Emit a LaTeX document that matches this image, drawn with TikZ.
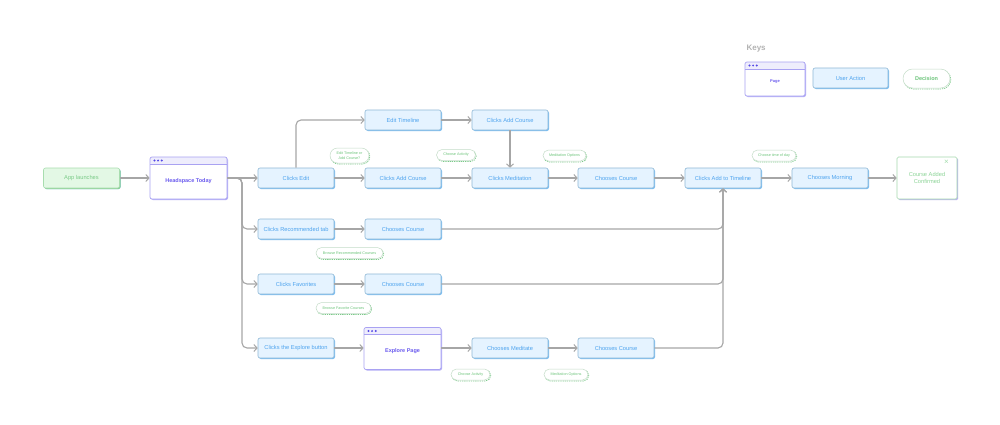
\documentclass[tikz,border=0pt]{standalone}
\usepackage{fontspec}
\setmainfont{Liberation Sans}
\usetikzlibrary{arrows.meta,shadows,shapes.misc}
\definecolor{actfill}{HTML}{E5F3FF}
\definecolor{actbd}{HTML}{8FB8D6}
\definecolor{actsh}{HTML}{79BDF2}
\definecolor{acttxt}{HTML}{4DA3EE}
\definecolor{pagebd}{HTML}{A9A2F2}
\definecolor{pagesh}{HTML}{B4AEF6}
\definecolor{pagebar}{HTML}{EEEDFC}
\definecolor{pagedot}{HTML}{5448E6}
\definecolor{pagetxt}{HTML}{6A5AEE}
\definecolor{decbd}{HTML}{C4DCC8}
\definecolor{decsh}{HTML}{7CC98A}
\definecolor{dectxt}{HTML}{6CC47A}
\definecolor{appfill}{HTML}{E3F8E5}
\definecolor{appbd}{HTML}{A8DDAF}
\definecolor{appsh}{HTML}{8ACF95}
\definecolor{apptxt}{HTML}{7BCB88}
\definecolor{confbd}{HTML}{A5D9AE}
\definecolor{confsh}{HTML}{B9B3EE}
\definecolor{conftxt}{HTML}{8CD497}
\definecolor{linec}{HTML}{A6A6A6}
\definecolor{keytxt}{HTML}{B3B3B3}
\tikzset{
  act/.style={draw=actbd, fill=actfill, text=acttxt, rounded corners=2pt,
    minimum width=76pt, minimum height=20pt, inner sep=1pt, line width=0.6pt,
    font=\fontsize{5.7}{6.5}\selectfont,
    drop shadow={shadow xshift=1pt, shadow yshift=-1pt, opacity=1, fill=actsh}},
  appbox/.style={act, draw=appbd, fill=appfill, text=apptxt,
    drop shadow={shadow xshift=1pt, shadow yshift=-1pt, opacity=1, fill=appsh}},
  page/.style={draw=pagebd, fill=white, rounded corners=2pt, line width=0.7pt,
    minimum width=77pt, minimum height=42pt, inner sep=0pt,
    drop shadow={shadow xshift=1pt, shadow yshift=-1pt, opacity=1, fill=pagesh},
    path picture={
      \fill[pagebar] (path picture bounding box.north west) rectangle ([yshift=-7pt]path picture bounding box.north east);
      \draw[pagebd, line width=0.4pt] ([yshift=-7pt]path picture bounding box.north west) -- ([yshift=-7pt]path picture bounding box.north east);
      \foreach \i in {0,1,2} \fill[pagedot] ([xshift=4.5pt+\i*3.6pt, yshift=-3.5pt]path picture bounding box.north west) circle (1.1pt);
    }},
  pagelbl/.style={text=pagetxt, font=\bfseries\fontsize{5.5}{6}\selectfont, yshift=-3pt},
  dec/.style={shape=rounded rectangle, draw=decbd, fill=white, text=dectxt,
    font=\fontsize{3.7}{4.4}\selectfont, minimum height=11pt, inner xsep=3pt, inner ysep=1pt,
    line width=0.5pt, align=center,
    drop shadow={shadow xshift=0.8pt, shadow yshift=-1pt, opacity=1, fill=white, draw=decsh, dash pattern=on 1.3pt off 0.9pt, line width=0.7pt}},
  arr/.style={draw=linec, line width=1.1pt, rounded corners=5pt,
    -{Straight Barb[length=3.2pt,width=7pt,line width=1pt]}},
}
\begin{document}
\begin{tikzpicture}[x=1pt,y=-1pt]
\useasboundingbox (0,0) rectangle (1000,424);
\fill[white] (0,0) rectangle (1000,424);

% Keys
\node[anchor=west, text=keytxt, font=\bfseries\fontsize{8}{9}\selectfont] (keys) at (743,49) {Keys};
\node[page, minimum width=60pt, minimum height=34pt, label={[pagelbl, font=\bfseries\fontsize{4}{5}\selectfont]center:Page}] (kpage) at (775,79) {};
\node[act, minimum width=75pt] (kact) at (850.5,78) {User Action};
\node[dec, minimum width=53pt, minimum height=19pt, font=\bfseries\fontsize{5.5}{6}\selectfont] (kdec) at (926.5,78.5) {Decision};

% Main row
\node[appbox] (al) at (81.5,178) {App launches};
\node[page, label={[pagelbl]center:Headspace Today}] (ht) at (188.5,178) {};
\node[act] (ce) at (296,178) {Clicks Edit};
\node[act] (cac) at (403,178) {Clicks Add Course};
\node[act] (cm) at (510,178) {Clicks Meditation};
\node[act] (cc1) at (616,178) {Chooses Course};
\node[act] (cat) at (723,178) {Clicks Add to Timeline};
\node[act] (cmo) at (830,178) {Chooses Morning};
\node[draw=confbd, fill=white, rounded corners=1.5pt, minimum width=60pt, minimum height=42pt,
  line width=0.6pt, text=conftxt, font=\fontsize{5.7}{6.8}\selectfont, align=center,
  drop shadow={shadow xshift=1.2pt, shadow yshift=-1.2pt, opacity=1, fill=confsh}] (conf) at (927,178) {Course Added\\Confirmed};
\node[text=conftxt!80!white, font=\fontsize{8}{8}\selectfont, inner sep=0pt] (x) at (946.5,162.5) {×};

% Top row
\node[act] (et) at (403,120) {Edit Timeline};
\node[act] (cact) at (510,120) {Clicks Add Course};

% Recommended / Favorites / Explore
\node[act] (crt) at (296,229) {Clicks Recommended tab};
\node[act] (cc2) at (403,229) {Chooses Course};
\node[act] (cf) at (296,284) {Clicks Favorites};
\node[act] (cc3) at (403,284) {Chooses Course};
\node[act] (ceb) at (296,348) {Clicks the Explore button};
\node[page, label={[pagelbl]center:Explore Page}] (ep) at (402.5,348.5) {};
\node[act] (cmd) at (510,348) {Chooses Meditate};
\node[act] (cc4) at (616,348) {Chooses Course};

% Decisions
\node[dec, minimum width=45pt, minimum height=15pt, font=\fontsize{3.7}{4.7}\selectfont] (d1) at (349.5,155.5) {Edit Timeline or\\Add Course?};
\node[dec, minimum width=45pt] (d2) at (456,155) {Choose Activity};
\node[dec, minimum width=49pt] (d3) at (564.5,155.5) {Meditation Options};
\node[dec, minimum width=50pt] (d4) at (774,155.5) {Choose time of day};
\node[dec, minimum width=73pt] (d5) at (349.5,253) {Browse Recommended Courses};
\node[dec, minimum width=61pt] (d6) at (343.5,308) {Browse Favorite Courses};
\node[dec, minimum width=45pt] (d7) at (470.5,374.5) {Choose Activity};
\node[dec, minimum width=50pt] (d8) at (566,374.5) {Meditation Options};

% Connectors
\draw[arr] (al) -- (ht);
\draw[arr] (ht.east) -- (ce.west);
\draw[arr] (ht.east) -- (242,178) |- (crt.west);
\draw[arr] (ht.east) -- (242,178) |- (cf.west);
\draw[arr] (ht.east) -- (242,178) |- (ceb.west);
\draw[arr] (ce) -- (cac);
\draw[arr] (ce.north) |- (et.west);
\draw[arr] (et) -- (cact);
\draw[arr] (cact) -- (cm);
\draw[arr] (cac) -- (cm);
\draw[arr] (cm) -- (cc1);
\draw[arr] (cc1) -- (cat);
\draw[arr] (cat) -- (cmo);
\draw[arr] (cmo) -- (conf);
\draw[arr] (crt) -- (cc2);
\draw[arr] (cf) -- (cc3);
\draw[arr] (ceb) -- (ep.west |- ceb);
\draw[arr] (ep.east |- cmd) -- (cmd);
\draw[arr] (cmd) -- (cc4);
\draw[arr] (cc2.east) -| (cat.south);
\draw[arr] (cc3.east) -| (cat.south);
\draw[arr] (cc4.east) -| (cat.south);
\end{tikzpicture}
\end{document}
